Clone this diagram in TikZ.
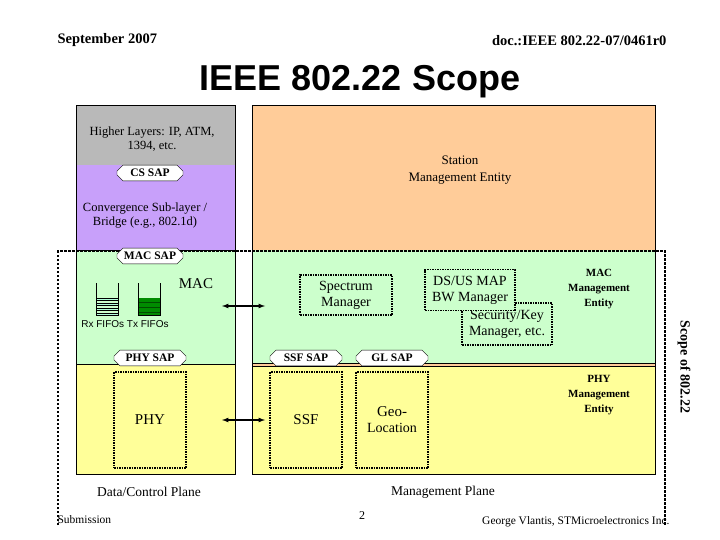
\documentclass[tikz,border=0pt]{standalone}
\usetikzlibrary{shapes.misc}
\usepackage{fontspec}
\setmainfont{Liberation Serif}
\newfontfamily\sans{Liberation Sans}
\begin{document}
\begin{tikzpicture}[x=1pt,y=-1pt,
 tag/.style={draw=black,fill=white,font=\bfseries\fontsize{11.5}{12}\selectfont,minimum width=66,minimum height=15,inner sep=1pt,
   chamfered rectangle,chamfered rectangle xsep=3pt},
 box/.style={draw=black,densely dotted,line width=1.5pt,align=center,font=\fontsize{14}{16}\selectfont},
 lbl/.style={align=center,font=\fontsize{12.5}{14}\selectfont},
 arr/.style={<->,>=latex,line width=1.2pt}]
\useasboundingbox (0,0) rectangle (720,540);
\fill[white] (0,0) rectangle (720,540);
\node[anchor=west,font=\bfseries\fontsize{14.5}{16}\selectfont] (date) at (54,40) {September 2007};
\node[anchor=east,font=\bfseries\fontsize{14.5}{16}\selectfont] (doc) at (670,41) {doc.:IEEE 802.22-07/0461r0};
\node[font=\sans\bfseries\fontsize{36}{40}\selectfont] (title) at (360,82) {IEEE 802.22 Scope};
% layers
\fill[gray!55] (76,105) rectangle (235,165);
\fill[fill={rgb,255:red,200;green,160;blue,250}] (76,165) rectangle (235,250);
\fill[fill={rgb,255:red,204;green,255;blue,204}] (76,250) rectangle (235,364);
\fill[fill={rgb,255:red,255;green,255;blue,153}] (76,364) rectangle (235,474);
\fill[fill={rgb,255:red,255;green,204;blue,153}] (252,105) rectangle (655,250);
\fill[fill={rgb,255:red,204;green,255;blue,204}] (252,250) rectangle (655,364);
\fill[fill={rgb,255:red,255;green,255;blue,153}] (252,364) rectangle (655,474);
\draw[fill={rgb,255:red,255;green,204;blue,153}] (252,363) rectangle (655,366);
\draw (76,105) rectangle (235,474) (76,250) -- (235,250) (76,364) -- (235,364);
\draw (252,105) rectangle (655,474);
% scope border
\draw[line width=2.5pt,dash pattern=on 2.5pt off 1.5pt] (58,525) -- (58,251) -- (665,251) -- (665,525);
\node[rotate=-90,font=\bfseries\fontsize{14}{16}\selectfont] (scope) at (684,367) {Scope of 802.22};
% texts
\node[lbl] (hl) at (152,139) {Higher Layers: IP, ATM,\\ 1394, etc.};
\node[lbl,font=\fontsize{13}{17}\selectfont] (sme) at (460,170) {Station\\Management Entity};
\node[lbl] (cs) at (145,216) {Convergence Sub-layer /\\ Bridge (e.g., 802.1d)};
\node[tag] (cssap) at (150,173) {CS SAP};
\node[tag] (macsap) at (150,256) {MAC SAP};
\node[font=\fontsize{15}{16}\selectfont] (mac) at (196,284) {MAC};
% FIFOs
\draw[line width=0.6pt] (96,283) -- (96,315) -- (118,315) -- (118,283);
\foreach \y in {298,303,308,313} \draw[fill={rgb,255:red,180;green,255;blue,220}] (96,\y) rectangle (118,\y+2.5);
\fill[green!55!black] (138,298) rectangle (160,315);
\foreach \y in {302,307,312} \draw[green!30!black,line width=0.3pt] (138,\y) -- (160,\y);
\draw[line width=0.6pt] (138,283) -- (138,315) -- (160,315) -- (160,283);
\node[font=\sans\fontsize{10}{12}\selectfont] (fifo) at (125,324) {Rx FIFOs\ Tx FIFOs};
\node[box,minimum width=92,minimum height=40] (spec) at (346,295) {Spectrum\\Manager};
\node[box,minimum width=90,minimum height=42,fill={rgb,255:red,204;green,255;blue,204}] (sec) at (507,324) {Security/Key\\Manager, etc.};
\node[box,minimum width=90,minimum height=41,fill={rgb,255:red,204;green,255;blue,204}] (ds) at (470,290) {DS/US MAP\\BW Manager};
\node[lbl,font=\bfseries\fontsize{11}{15}\selectfont] (mme) at (599,289) {MAC\\Management\\Entity};
\node[lbl,font=\bfseries\fontsize{11}{15}\selectfont] (pme) at (599,395) {PHY\\Management\\Entity};
\node[box,minimum width=72,minimum height=96] (phy) at (150,420) {\fontsize{15}{16}\selectfont PHY};
\node[box,minimum width=72,minimum height=96] (ssf) at (306,420) {\fontsize{15}{16}\selectfont SSF};
\node[box,minimum width=72,minimum height=96] (geo) at (392,420) {\fontsize{15}{19}\selectfont Geo-\\Location};
\node[tag,minimum width=72] (physap) at (150,358) {PHY SAP};
\node[tag,minimum width=72] (ssfsap) at (306,358) {SSF SAP};
\node[tag,minimum width=72] (glsap) at (392,358) {GL SAP};
\coordinate (a1) at (222,306); \coordinate (b1) at (265,306);
\coordinate (a2) at (222,420); \coordinate (b2) at (265,420);
\draw[arr] (a1) -- (b1);
\draw[arr] (a2) -- (b2);
\node[lbl,font=\fontsize{13.5}{15}\selectfont] (dcp) at (149,492) {Data/Control Plane};
\node[lbl,font=\fontsize{13.5}{15}\selectfont] (mp) at (443,492) {Management Plane};
\node[anchor=west,font=\fontsize{11.5}{13}\selectfont] (sub) at (54,520) {Submission};
\node[font=\fontsize{12}{13}\selectfont] (pg) at (362,516) {2};
\node[anchor=east,font=\fontsize{11.5}{13}\selectfont] (auth) at (673,522) {George Vlantis, STMicroelectronics Inc.};
\end{tikzpicture}
\end{document}
